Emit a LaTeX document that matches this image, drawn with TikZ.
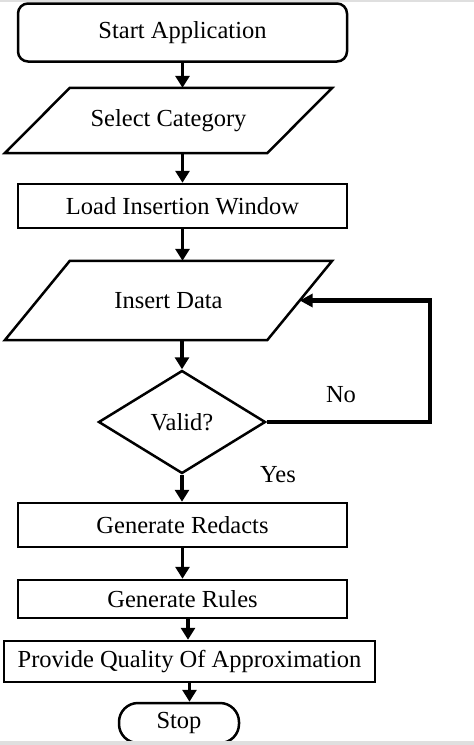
\documentclass[tikz,border=0pt]{standalone}
\usepackage{fontspec}
\setmainfont{Liberation Serif}
\usetikzlibrary{shapes.geometric,arrows.meta}
\begin{document}
\begin{tikzpicture}[x=1pt,y=-1pt,
  every node/.style={font=\fontsize{24.5}{29}\selectfont, inner sep=0pt},
  box/.style={draw, line width=2.5pt, rectangle},
  rbox/.style={box, rounded corners=10pt},
  iobody/.style={rectangle, minimum width=262pt},
  ioshape/.style={draw, line width=2.5pt, line join=miter},
  decision/.style={draw, line width=2.5pt, diamond, aspect=1.62},
  arr/.style={line width=3.5pt, -{Triangle[length=12pt,width=14pt]}},
  looparr/.style={line width=4.5pt, -{Triangle[length=13pt,width=13pt]}}
]
\useasboundingbox (0,0) rectangle (474,745);
\fill[gray!25] (0,0) rectangle (474,2);

\node[rbox, minimum width=329pt, minimum height=58pt] (start) at (182.5,32.5) {Start Application};
\node[iobody, minimum height=65pt] (sel) at (168.5,120.5) {Select Category};
\draw[ioshape] ([xshift=32.5pt]sel.north west) -- ([xshift=32.5pt]sel.north east) -- ([xshift=-32.5pt]sel.south east) -- ([xshift=-32.5pt]sel.south west) -- cycle;
\node[box, minimum width=329pt, minimum height=44pt] (load) at (182.5,206) {Load Insertion Window};
\node[iobody, minimum height=79pt] (ins) at (168.5,300.5) {Insert Data};
\draw[ioshape] ([xshift=32.5pt]ins.north west) -- ([xshift=32.5pt]ins.north east) -- ([xshift=-32.5pt]ins.south east) -- ([xshift=-32.5pt]ins.south west) -- cycle;
\node[decision, minimum width=167pt, minimum height=103pt] (valid) at (182,422) {Valid?};
\node[box, minimum width=329pt, minimum height=44pt] (red) at (182.5,525) {Generate Redacts};
\node[box, minimum width=329pt, minimum height=38pt] (rules) at (182.5,599) {Generate Rules};
\node[box, minimum width=371pt, minimum height=41pt] (prov) at (189.5,661.5) {Provide Quality Of Approximation};
\node[box, rounded corners=19pt, minimum width=120pt, minimum height=40pt] (stop) at (179,723) {Stop};

\node (no) at (341,395) {No};
\node (yes) at (278,475) {Yes};

\coordinate (nr) at (430,423);

\draw[arr] (start.south) -- (start.south |- sel.north);
\draw[arr] (load.north |- sel.south) -- (load.north);
\draw[arr] (load.south) -- (load.south |- ins.north);
\draw[arr] (valid.north |- ins.south) -- (valid.north);
\draw[arr] (valid.south) -- (valid.south |- red.north);
\draw[arr] (red.south) -- (rules.north);
\draw[arr] ([xshift=5.5pt]rules.south) -- ([xshift=5.5pt]rules.south |- prov.north);
\draw[arr] (prov.south) -- (prov.south |- stop.north);
\draw[looparr] (valid.east) -- (valid.east -| nr) |- (ins.east);

\fill[gray!25] (0,741) rectangle (474,745);
\end{tikzpicture}
\end{document}
